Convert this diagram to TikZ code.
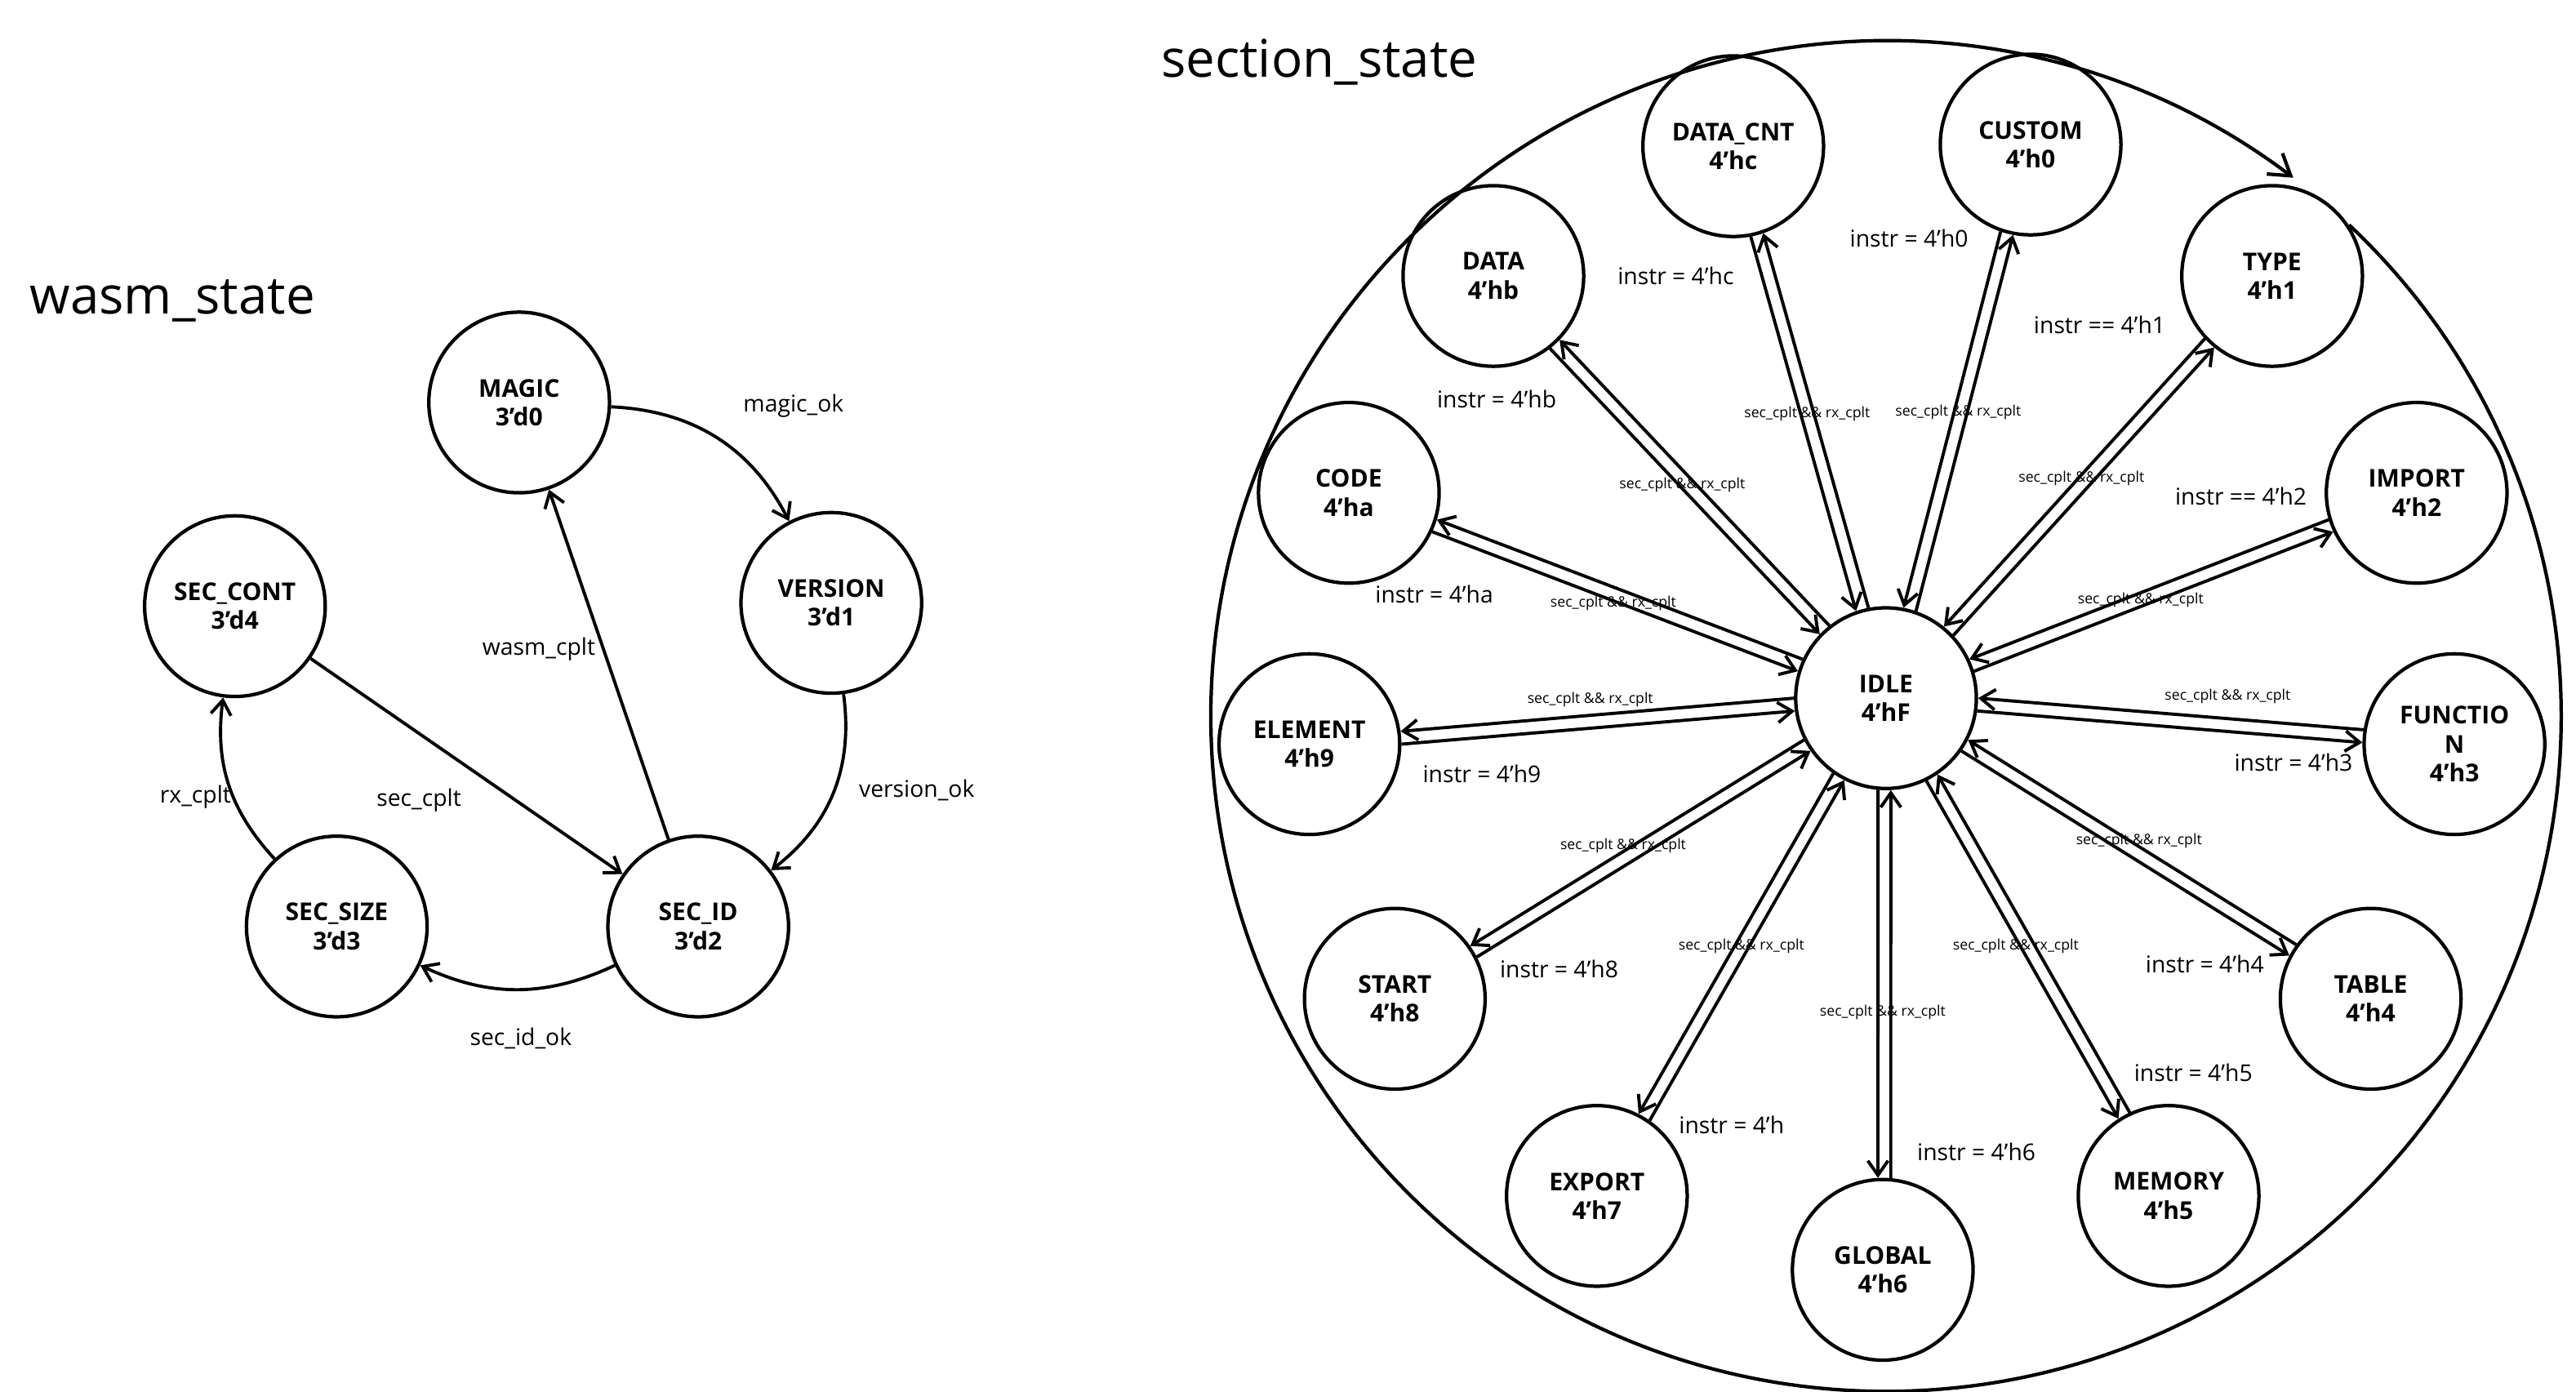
\documentclass[tikz,border=0pt]{standalone}
\usepackage{fontspec}
\setmainfont{Open Sans}
\usetikzlibrary{arrows.meta,calc}
\begin{document}
\begin{tikzpicture}[x=0.02cm,y=-0.02cm,
  st/.style={circle,draw,line width=1.2pt,minimum size=2.2cm,inner sep=0pt,align=center,font=\fontsize{8.5}{10}\selectfont\bfseries},
  ed/.style={line width=1.1pt,-{Straight Barb[length=5pt,width=7pt]}},
  lb/.style={font=\fontsize{8}{9}\selectfont},
  sl/.style={font=\fontsize{5}{6}\selectfont},
  tt/.style={font=\fontsize{18}{20}\selectfont}]
\useasboundingbox (0,0) rectangle (1568,847);
\node[tt] (t1) at (105,183) {wasm\_state};
\node[tt] (t2) at (803,38) {section\_state};
% wasm
\node[st] (magic) at (316,245) {MAGIC\\3’d0};
\node[st] (ver) at (506,367) {VERSION\\3’d1};
\node[st] (sid) at (425,564) {SEC\_ID\\3’d2};
\node[st] (ssz) at (205,564) {SEC\_SIZE\\3’d3};
\node[st] (scont) at (143,369) {SEC\_CONT\\3’d4};
\draw[ed] (magic) to[bend left=30] (ver);
\draw[ed] (ver) to[bend left=30] (sid);
\draw[ed] (sid) -- (magic);
\draw[ed] (sid) to[bend left=25] (ssz);
\draw[ed] (ssz) to[bend left=25] (scont);
\draw[ed] (scont) -- (sid);
\node[lb] (l1) at (483,247) {magic\_ok};
\node[lb] (l2) at (558,481) {version\_ok};
\node[lb] (l3) at (328,395) {wasm\_cplt};
\node[lb] (l4) at (317,632) {sec\_id\_ok};
\node[lb] (l5) at (119,485) {rx\_cplt};
\node[lb] (l6) at (255,487) {sec\_cplt};
% section
\coordinate (cc) at (1148,436);
\draw[line width=1.2pt,-{Straight Barb[length=7pt,width=9pt]}] ($(cc)+(-46.7:411)$) arc[start angle=-46.7,end angle=307.1,radius=411];
\node[st] (idle) at (1148,425) {IDLE\\4’hF};
\foreach \n/\x/\y/\a/\t/\ix/\iy/\it/\sx/\sy in {
 dcnt/1055/89/105.5/DATA\_CNT\\4’hc/1020/168/instr = 4’hc/1100/252,
 cust/1236/88/75.4/CUSTOM\\4’h0/1162/145/instr = 4’h0/1192/251,
 type/1383/168/47.6/TYPE\\4’h1/1278/198/instr == 4’h1/1267/291,
 data/909/168/132.9/DATA\\4’hb/911/243/instr = 4’hb/1024/295,
 code/821/300/159.1/CODE\\4’ha/873/362/instr = 4’ha/982/367,
 imp/1471/300/21.2/IMPORT\\4’h2/1364/302/instr == 4’h2/1303/365,
 elem/797/453/184.6/ELEMENT\\4’h9/902/471/instr = 4’h9/968/426,
 func/1494/453/-4.6/FUNCTIO\\N\\4’h3/1396/464/instr = 4’h3/1356/424,
 start/849/608/211.5/START\\4’h8/949/590/instr = 4’h8/988/515,
 table/1443/608/-31.8/TABLE\\4’h4/1342/587/instr = 4’h4/1302/512,
 exp/972/728/239.8/EXPORT\\4’h7/1054/685/instr = 4’h/1060/576,
 glob/1146/773/269.7/GLOBAL\\4’h6/1203/701/instr = 4’h6/1146/616,
 mem/1320/728/-60.4/MEMORY\\4’h5/1335/653/instr = 4’h5/1227/576}{
 \node[st] (\n) at (\x,\y) {\t};
 \draw[ed] (idle.{\a-4}) -- (\n.{\a+180+4});
 \draw[ed] (\n.{\a+180-4}) -- (idle.{\a+4});
 \node[lb] (i\n) at (\ix,\iy) {\it};
 \node[sl] (s\n) at (\sx,\sy) {sec\_cplt \&\& rx\_cplt};
}
\end{tikzpicture}
\end{document}
